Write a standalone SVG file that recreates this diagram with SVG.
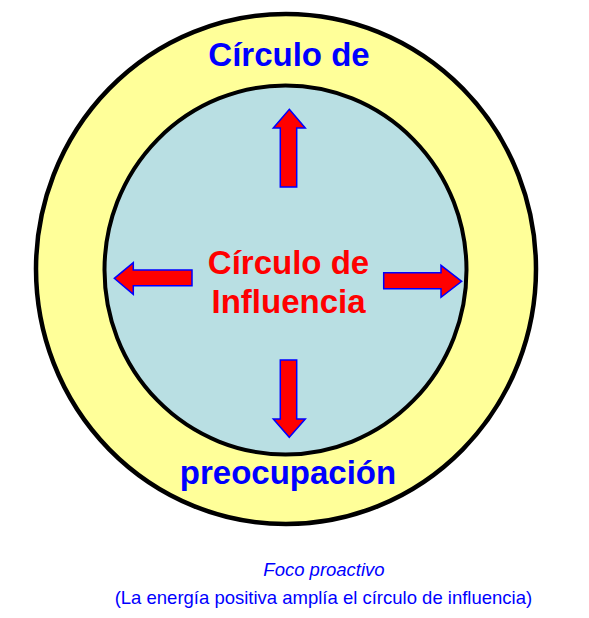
<svg xmlns="http://www.w3.org/2000/svg" width="589" height="618" viewBox="0 0 589 618">
<style>
.big{font-family:"Liberation Sans",Arial,sans-serif;font-weight:bold;font-size:33px;text-anchor:middle}
.cap{font-family:"Liberation Sans",Arial,sans-serif;font-size:18.5px;fill:#0000FF;text-anchor:middle}
.arrow{fill:#FF0000;stroke:#0000FF;stroke-width:1.5;stroke-linejoin:miter}
</style>
<rect width="589" height="618" fill="#FFFFFF"/>
<g id="outer">
<ellipse cx="286" cy="269" rx="250" ry="255" fill="#FFFF99" stroke="#000000" stroke-width="4.5"/>
<text class="big" x="289" y="66" fill="#0000FF">Círculo de</text>
<text class="big" x="288" y="484" fill="#0000FF">preocupación</text>
</g>
<g id="inner">
<ellipse cx="285.5" cy="270" rx="181" ry="184.5" fill="#B9DFE3" stroke="#000000" stroke-width="4"/>
<text class="big" x="288.5" y="274" fill="#FF0000">Círculo de</text>
<text class="big" x="288.5" y="313" fill="#FF0000">Influencia</text>
</g>
<g id="connectors">
<polygon class="arrow" points="289.3,109.3 305.3,128 296.7,128 296.7,187 280.3,187 280.3,128 273.3,128"/>
<polygon class="arrow" points="289.3,437.3 305.3,419 296.7,419 296.7,360 280.3,360 280.3,419 273.3,419"/>
<polygon class="arrow" points="114.3,278.3 133.3,262.7 133.3,270 192,270 192,285.7 133.3,285.7 133.3,294.3"/>
<polygon class="arrow" points="461.7,281.3 441,265.3 441,272.7 383.7,272.7 383.7,288.7 441,288.7 441,297.3"/>
</g>
<g id="caption">
<text class="cap" x="324" y="576" font-style="italic">Foco proactivo</text>
<text class="cap" x="323.4" y="604">(La energía positiva amplía el círculo de influencia)</text>
</g>
</svg>
